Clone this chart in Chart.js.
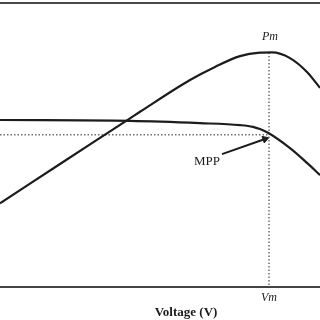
<!DOCTYPE html>
<html lang="en">
<head>
  <meta charset="UTF-8">
  <title>PV curve - MPP</title>
  <script src="https://cdn.jsdelivr.net/npm/chart.js"></script>
  <style>
    body {
      margin: 0;
      background: #fff;
    }
    canvas {
      display: block;
    }
  </style>
</head>
<body>
  <canvas id="pvChart" width="320" height="320"></canvas>
  <script>
    // (arbitrary units, no y axis shown)
    const powerVolts = [0, 6, 13, 14, 19, 21.5, 24, 26, 27.2, 29, 30.7, 32];
    const powerValues = [29.5, 43.3, 59.4, 61.7, 72.9, 77.5, 81.3, 82.5, 82.6, 80.6, 75.7, 70.1];
    const currentVolts = [0, 13, 20, 24, 25.3, 26, 26.8, 29, 30.7, 32];
    const currentValues = [58.8, 58.5, 57.7, 57.0, 56.4, 55.6, 54.3, 48.9, 43.7, 39.4];
    const vm = 26.9;
    const pm = 82.6;
    const im = 53.6;
    const arrowTail = [22.2, 46.8];
    const arrowHead = [26.5, 52.1];

    const ink = '#1c1c1c';
    const dots = '#6f6f6f';

    function pts(xs, ys) {
      return xs.map((x, i) => ({ x: x, y: ys[i] }));
    }

    const labelsPlugin = {
      id: 'labels',
      afterDraw(chart) {
        const ctx = chart.ctx;
        const x = chart.scales.x;
        const y = chart.scales.y;
        ctx.save();
        ctx.fillStyle = ink;
        ctx.textAlign = 'center';
        ctx.textBaseline = 'middle';
        ctx.font = 'italic 12px "Liberation Serif"';
        ctx.fillText('Pm', x.getPixelForValue(vm) + 1, y.getPixelForValue(pm) - 16);
        ctx.font = '13px "Liberation Serif"';
        ctx.fillText('MPP', 207, 162);
        ctx.font = 'bold 13px "Liberation Serif"';
        ctx.fillText('Voltage (V)', 186, 313);
        ctx.restore();
      }
    };

    new Chart(document.getElementById('pvChart'), {
      type: 'line',
      data: {
        datasets: [
          {
            label: 'Power',
            data: pts(powerVolts, powerValues),
            borderColor: ink,
            borderWidth: 2.2,
            pointRadius: 0,
            cubicInterpolationMode: 'monotone'
          },
          {
            label: 'Current',
            data: pts(currentVolts, currentValues),
            borderColor: ink,
            borderWidth: 2.2,
            pointRadius: 0,
            cubicInterpolationMode: 'monotone'
          },
          {
            label: 'Vm',
            data: [{ x: vm, y: pm }, { x: vm, y: 0 }],
            borderColor: dots,
            borderWidth: 1.5,
            borderDash: [1.5, 2],
            pointRadius: 0
          },
          {
            label: 'Im',
            data: [{ x: 0, y: im }, { x: vm, y: im }],
            borderColor: dots,
            borderWidth: 1.5,
            borderDash: [1.5, 2],
            pointRadius: 0
          },
          {
            label: 'arrow',
            data: [{ x: arrowTail[0], y: arrowTail[1] }, { x: arrowHead[0], y: arrowHead[1] }],
            borderColor: ink,
            borderWidth: 2,
            pointRadius: [0, 4],
            pointStyle: 'triangle',
            pointRotation: 71,
            pointBackgroundColor: ink,
            pointBorderColor: ink,
            pointBorderWidth: 1
          }
        ]
      },
      options: {
        responsive: false,
        animation: false,
        layout: { padding: 0, autoPadding: false },
        plugins: {
          legend: { display: false },
          tooltip: { enabled: false }
        },
        scales: {
          x: {
            type: 'linear',
            position: 'bottom',
            min: 0,
            max: 32,
            grid: { display: false },
            border: { display: true, color: '#444', width: 2 },
            afterBuildTicks: (scale) => { scale.ticks = [{ value: vm }]; },
            afterFit: (scale) => { scale.height = 33; },
            ticks: {
              padding: -4,
              color: ink,
              font: { family: 'Liberation Serif', size: 12, style: 'italic' },
              callback: () => 'Vm'
            }
          },
          xTop: {
            type: 'linear',
            position: 'top',
            min: 0,
            max: 32,
            grid: { display: false },
            border: { display: true, color: '#4a4a4a', width: 2 },
            ticks: { display: false },
            afterFit: (scale) => { scale.height = 3; }
          },
          y: {
            display: false,
            min: 0,
            max: 100
          }
        }
      },
      plugins: [labelsPlugin]
    });
  </script>
</body>
</html>
